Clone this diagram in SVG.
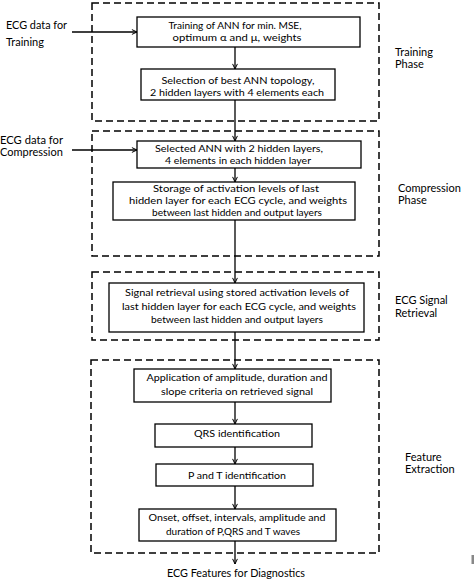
<svg xmlns="http://www.w3.org/2000/svg" width="474" height="579" viewBox="0 0 474 579">
<defs>
<style>
text{font-family:Lato,"Liberation Sans",sans-serif;font-size:11px;fill:#000}
.c{text-anchor:middle;font-size:10.3px}
.box{fill:#fff;stroke:#000;stroke-width:1.3}
.phase{fill:none;stroke:#000;stroke-width:1.5;stroke-dasharray:7 4}
.conn{stroke:#000;stroke-width:1.3;fill:none;marker-end:url(#ah)}
</style>
<marker id="ah" viewBox="0 0 6 6" refX="5.6" refY="3" markerWidth="6" markerHeight="6" markerUnits="userSpaceOnUse" orient="auto">
<path d="M0.5,0.6 L5.6,3 L0.5,5.4" fill="none" stroke="#000" stroke-width="1"/>
</marker>
</defs>
<rect width="474" height="579" fill="#fff"/>

<g id="phases">
<rect class="phase" x="92" y="3" width="287" height="118"/>
<rect class="phase" x="92" y="131" width="287" height="125"/>
<rect class="phase" x="92" y="272" width="287" height="68"/>
<rect class="phase" x="91" y="360" width="288" height="193"/>
</g>

<g id="connectors">
<line class="conn" x1="72" y1="32" x2="137" y2="32"/>
<line class="conn" x1="235" y1="47" x2="235" y2="69"/>
<line class="conn" x1="235" y1="100" x2="235" y2="141"/>
<line class="conn" x1="72" y1="150" x2="137" y2="150"/>
<line class="conn" x1="235" y1="168" x2="235" y2="182"/>
<line class="conn" x1="235" y1="220" x2="235" y2="283"/>
<line class="conn" x1="235" y1="332" x2="235" y2="369"/>
<line class="conn" x1="235" y1="402" x2="235" y2="424"/>
<line class="conn" x1="235" y1="447" x2="235" y2="464"/>
<line class="conn" x1="235" y1="486" x2="235" y2="509"/>
<line class="conn" x1="235" y1="541" x2="235" y2="564"/>
</g>

<g id="n-training">
<rect class="box" x="137" y="17" width="223" height="30"/>
<text class="c" x="235" y="29" textLength="133" lengthAdjust="spacingAndGlyphs">Training of ANN for min. MSE,</text>
<text class="c" x="237" y="41" textLength="129" lengthAdjust="spacingAndGlyphs">optimum α and  μ,  weights</text>
</g>

<g id="n-selection">
<rect class="box" x="141" y="69" width="194" height="31"/>
<text class="c" x="238" y="84" textLength="153" lengthAdjust="spacingAndGlyphs">Selection of best ANN topology,</text>
<text class="c" x="237" y="96" textLength="174" lengthAdjust="spacingAndGlyphs">2 hidden layers with 4 elements each</text>
</g>

<g id="n-selected">
<rect class="box" x="137" y="141" width="224" height="27"/>
<text class="c" x="239" y="152" textLength="168" lengthAdjust="spacingAndGlyphs">Selected ANN with 2 hidden layers,</text>
<text class="c" x="238" y="164" textLength="146" lengthAdjust="spacingAndGlyphs">4 elements in each hidden layer</text>
</g>

<g id="n-storage">
<rect class="box" x="113" y="182" width="242" height="38"/>
<text class="c" x="236" y="192" textLength="166" lengthAdjust="spacingAndGlyphs">Storage of activation levels of last</text>
<text class="c" x="238" y="204" textLength="218" lengthAdjust="spacingAndGlyphs">hidden layer for each ECG cycle, and weights</text>
<text class="c" x="237" y="216" textLength="170" lengthAdjust="spacingAndGlyphs">between last hidden and output layers</text>
</g>

<g id="n-retrieval">
<rect class="box" x="109" y="283" width="255" height="49"/>
<text class="c" x="237" y="296" textLength="224" lengthAdjust="spacingAndGlyphs">Signal retrieval using stored activation levels of</text>
<text class="c" x="239" y="310" textLength="234" lengthAdjust="spacingAndGlyphs">last hidden layer for each ECG cycle, and weights</text>
<text class="c" x="237" y="323" textLength="172" lengthAdjust="spacingAndGlyphs">between last hidden and output layers</text>
</g>

<g id="n-application">
<rect class="box" x="134" y="369" width="197" height="33"/>
<text class="c" x="237" y="381" textLength="181" lengthAdjust="spacingAndGlyphs">Application of amplitude, duration and</text>
<text class="c" x="237" y="395" textLength="152" lengthAdjust="spacingAndGlyphs">slope criteria on retrieved signal</text>
</g>

<g id="n-qrs">
<rect class="box" x="155" y="424" width="157" height="23"/>
<text class="c" x="237" y="437" textLength="86" lengthAdjust="spacingAndGlyphs">QRS identification</text>
</g>

<g id="n-pt">
<rect class="box" x="156" y="464" width="157" height="22"/>
<text class="c" x="237" y="479" textLength="98" lengthAdjust="spacingAndGlyphs">P and T identification</text>
</g>

<g id="n-onset">
<rect class="box" x="139" y="509" width="197" height="32"/>
<text class="c" x="237" y="521" textLength="177" lengthAdjust="spacingAndGlyphs">Onset, offset, intervals, amplitude and</text>
<text class="c" x="233" y="535" textLength="134" lengthAdjust="spacingAndGlyphs">duration of P,QRS and T waves</text>
</g>

<g id="labels">
<text x="6" y="29" textLength="61" lengthAdjust="spacingAndGlyphs">ECG data for</text>
<text x="6" y="46">Training</text>
<text x="0" y="144" textLength="63" lengthAdjust="spacingAndGlyphs">ECG data for</text>
<text x="0" y="156">Compression</text>
<text x="395" y="56">Training</text>
<text x="395" y="68">Phase</text>
<text x="398" y="192">Compression</text>
<text x="398" y="204">Phase</text>
<text x="395" y="304">ECG Signal</text>
<text x="395" y="317">Retrieval</text>
<text x="405" y="461">Feature</text>
<text x="405" y="473">Extraction</text>
<text class="c" x="236" y="577" style="font-size:11px" textLength="138" lengthAdjust="spacingAndGlyphs">ECG Features for Diagnostics</text>
</g>
<rect x="471.5" y="555" width="2.5" height="9" fill="#888"/>
</svg>
